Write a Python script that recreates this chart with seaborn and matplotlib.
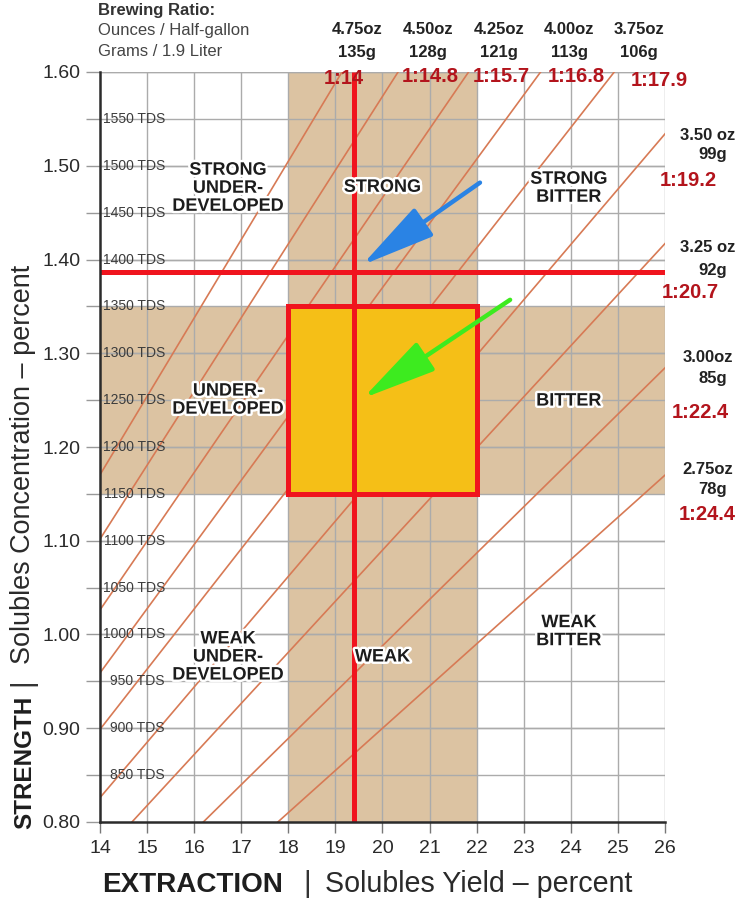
import numpy as np
import pandas as pd
import matplotlib
matplotlib.use("Agg")
import matplotlib.pyplot as plt
import matplotlib.patheffects as pe
import matplotlib.font_manager as fm
from matplotlib.patches import Rectangle
import seaborn as sns

# ---------------- data ----------------
ratio_slopes = [0.0836, 0.0787, 0.0733, 0.0685, 0.0642, 0.0590, 0.0545, 0.0494, 0.0450]
top_oz = ["4.75oz", "4.50oz", "4.25oz", "4.00oz", "3.75oz"]
top_g = ["135g", "128g", "121g", "113g", "106g"]
top_ratio = ["1:14", "1:14.8", "1:15.7", "1:16.8", "1:17.9"]
right_oz = ["3.50 oz", "3.25 oz", "3.00oz", "2.75oz"]
right_g = ["99g", "92g", "85g", "78g"]
right_ratio = ["1:19.2", "1:20.7", "1:22.4", "1:24.4"]
tds_values = [850, 900, 950, 1000, 1050, 1100, 1150, 1200, 1250, 1300,
              1350, 1400, 1450, 1500, 1550]
x_ticks = list(range(14, 27))
y_ticks = [0.80, 0.90, 1.00, 1.10, 1.20, 1.30, 1.40, 1.50, 1.60]
ideal_ey = [18, 22]
ideal_tds = [1.15, 1.35]
brew_ey = 19.4
brew_tds = 1.387
region_labels = ["STRONG\nUNDER-\nDEVELOPED", "STRONG", "STRONG\nBITTER",
                 "UNDER-\nDEVELOPED", "BITTER",
                 "WEAK\nUNDER-\nDEVELOPED", "WEAK", "WEAK\nBITTER"]
region_ey = [16.72, 20.0, 23.96, 16.72, 23.96, 16.72, 20.0, 23.96]
region_tds = [1.476, 1.477, 1.476, 1.250, 1.249, 0.976, 0.976, 1.003]
blue_arrow = [(22.07, 1.482), (19.565, 1.394)]
green_arrow = [(22.71, 1.357), (19.586, 1.252)]

# ---------------- style ----------------
sns.set_theme(style="white")
plt.rcParams["font.family"] = ["Liberation Sans", "DejaVu Sans"]
names = {f.name for f in fm.fontManager.ttflist}
narrow = "Liberation Sans Narrow" if "Liberation Sans Narrow" in names else "Liberation Sans"

W, H = 743, 898
fig = plt.figure(figsize=(W / 100, H / 100), dpi=100)
ax = fig.add_axes([100 / W, 1 - 822 / H, 565 / W, 750 / H])

def px(x, y):
    return x / W, 1 - y / H

TAN = "#DCC3A2"
YELLOW = "#F5BF17"
RED = "#F0141E"
DARKRED = "#B3141C"
LINE = "#D77A55"
GRID = "#ABABAB"

ax.set_xlim(14, 26)
ax.set_ylim(0.80, 1.60)

# tan bands
ax.axvspan(ideal_ey[0], ideal_ey[1], color=TAN, lw=0, zorder=0.5)
ax.axhspan(ideal_tds[0], ideal_tds[1], color=TAN, lw=0, zorder=0.5)

# grid
for xv in x_ticks[1:]:
    ax.axvline(xv, color=GRID, lw=1.0, zorder=1)
for tv in tds_values + [1600]:
    ax.axhline(tv / 1000, color=GRID, lw=1.0, zorder=1)
for yv in y_ticks[1:]:
    ax.axhline(yv, color=GRID, lw=1.0, zorder=1)

# brewing ratio lines
rows = []
for i, k in enumerate(ratio_slopes):
    for xv in (13.0, 27.0):
        rows.append({"line": i, "ey": xv, "tds": k * xv})
df = pd.DataFrame(rows)
sns.lineplot(data=df, x="ey", y="tds", units="line", estimator=None,
             color=LINE, lw=1.2, ax=ax, zorder=2, legend=False)

# ideal box
ax.add_patch(Rectangle((ideal_ey[0], ideal_tds[0]), ideal_ey[1] - ideal_ey[0],
                       ideal_tds[1] - ideal_tds[0], facecolor=YELLOW,
                       edgecolor=RED, lw=3.6, zorder=3, joinstyle="miter"))

# brew point lines
ax.axhline(brew_tds, color=RED, lw=3.6, zorder=4, solid_capstyle="butt")
ax.axvline(brew_ey, color=RED, lw=3.6, zorder=4, solid_capstyle="butt")

# arrows
for arr, col in ((blue_arrow, "#2A83E4"), (green_arrow, "#3DEB1F")):
    ax.annotate("", xy=arr[1], xytext=arr[0], zorder=5,
                arrowprops=dict(arrowstyle="-|>,head_length=4.6,head_width=1.05",
                                mutation_scale=10, lw=3.2, color=col,
                                shrinkA=0, shrinkB=0))

# region labels
halo = [pe.withStroke(linewidth=3.5, foreground="white")]
for lab, xv, yv in zip(region_labels, region_ey, region_tds):
    ax.text(xv, yv, lab, ha="center", va="center", fontsize=13, fontweight="bold",
            color="#1c1c1c", linespacing=1.08, zorder=6, path_effects=halo)

# TDS labels
for tv in tds_values:
    ax.text(15.38, tv / 1000, f"{tv} TDS", ha="right", va="center", fontsize=10,
            color="#3c3c3c", zorder=6)

# axes styling
for s in ("top", "right"):
    ax.spines[s].set_visible(False)
for s in ("left", "bottom"):
    ax.spines[s].set_color("#2b2b2b")
    ax.spines[s].set_linewidth(1.8)
    ax.spines[s].set_zorder(7)
ax.set_xticks(x_ticks)
ax.set_xticklabels([str(v) for v in x_ticks])
ax.set_yticks(y_ticks)
ax.set_yticklabels([f"{v:.2f}" for v in y_ticks])
ax.set_yticks([v / 1000 for v in tds_values], minor=True)
ax.tick_params(axis="x", which="major", direction="out", length=8, width=1.0,
               color="#777777", labelsize=14, labelcolor="#2a2a2a", pad=5, bottom=True)
ax.tick_params(axis="y", which="both", direction="out", length=10, width=1.0,
               color="#999999", labelsize=14, labelcolor="#2a2a2a", pad=4, left=True)
ax.set_xlabel("")
ax.set_ylabel("")

# header
fig.text(*px(98, 10), "Brewing Ratio:", ha="left", va="center", fontsize=12,
         fontweight="bold", color="#333333")
fig.text(*px(98, 30), "Ounces / Half-gallon", ha="left", va="center", fontsize=12,
         color="#444444")
fig.text(*px(98, 52), "Grams / 1.9 Liter", ha="left", va="center", fontsize=12,
         color="#444444")

top_x = [357, 428, 499, 569, 639]
top_rx = [344, 430, 501, 576, 659]
top_ry = [78, 77, 77, 77, 81]
for oz, g, r, x, rx, ry in zip(top_oz, top_g, top_ratio, top_x, top_rx, top_ry):
    fig.text(*px(x, 30), oz, ha="center", va="center", fontsize=12, fontweight="bold",
             color="#222222")
    fig.text(*px(x, 52), g, ha="center", va="center", fontsize=12, fontweight="bold",
             color="#222222")
    fig.text(*px(rx, ry), r, ha="center", va="center", fontsize=14.5, fontweight="bold",
             color=DARKRED, zorder=8)

r_oz_y = [135, 248, 358, 470]
r_g_y = [155, 270, 378, 490]
r_r_x = [688, 690, 700, 707]
r_r_y = [181, 293, 412, 515]
for oz, g, r, oy, gy, rx, ry in zip(right_oz, right_g, right_ratio, r_oz_y, r_g_y, r_r_x, r_r_y):
    fig.text(*px(708, oy), oz, ha="center", va="center", fontsize=12, fontweight="bold",
             color="#222222")
    fig.text(*px(713, gy), g, ha="center", va="center", fontsize=12, fontweight="bold",
             color="#222222")
    fig.text(*px(rx, ry), r, ha="center", va="center", fontsize=14.5, fontweight="bold",
             color=DARKRED)

# axis titles (pieces fitted to the reference extents)
renderer = fig.canvas.get_renderer()

def fit(t, target, horiz=True):
    bb = t.get_window_extent(renderer=renderer)
    cur = bb.width if horiz else bb.height
    t.set_fontsize(t.get_fontsize() * target / cur)

t1 = fig.text(*px(102, 892), "EXTRACTION", ha="left", va="baseline", fontsize=20,
              fontweight="bold", family=[narrow, "DejaVu Sans"], color="#1e1e1e")
fit(t1, 181)
t2 = fig.text(*px(303, 892), "|", ha="left", va="baseline", fontsize=21, color="#333333")
t3 = fig.text(*px(325, 892), "Solubles Yield \u2013 percent", ha="left", va="baseline",
              fontsize=20, color="#2a2a2a")
fit(t3, 307)

y1 = fig.text(*px(31, 829), "STRENGTH", ha="left", va="baseline", rotation=90,
              rotation_mode="anchor", fontsize=17.5, fontweight="bold",
              family=[narrow, "DejaVu Sans"], color="#1e1e1e")
bb1 = y1.get_window_extent(renderer=renderer)
top1 = H - bb1.y1  # pixel y (from top) where STRENGTH ends
y2 = fig.text(*px(30, top1 - 10), "|", ha="left", va="baseline", rotation=90,
              rotation_mode="anchor", fontsize=21, color="#333333")
start3 = top1 - 32
y3 = fig.text(*px(30, start3), "Solubles Concentration \u2013 percent", ha="left",
              va="baseline", rotation=90, rotation_mode="anchor", fontsize=20,
              color="#2a2a2a")
fit(y3, start3 - 265, horiz=False)

fig.savefig("out.png", dpi=100)
